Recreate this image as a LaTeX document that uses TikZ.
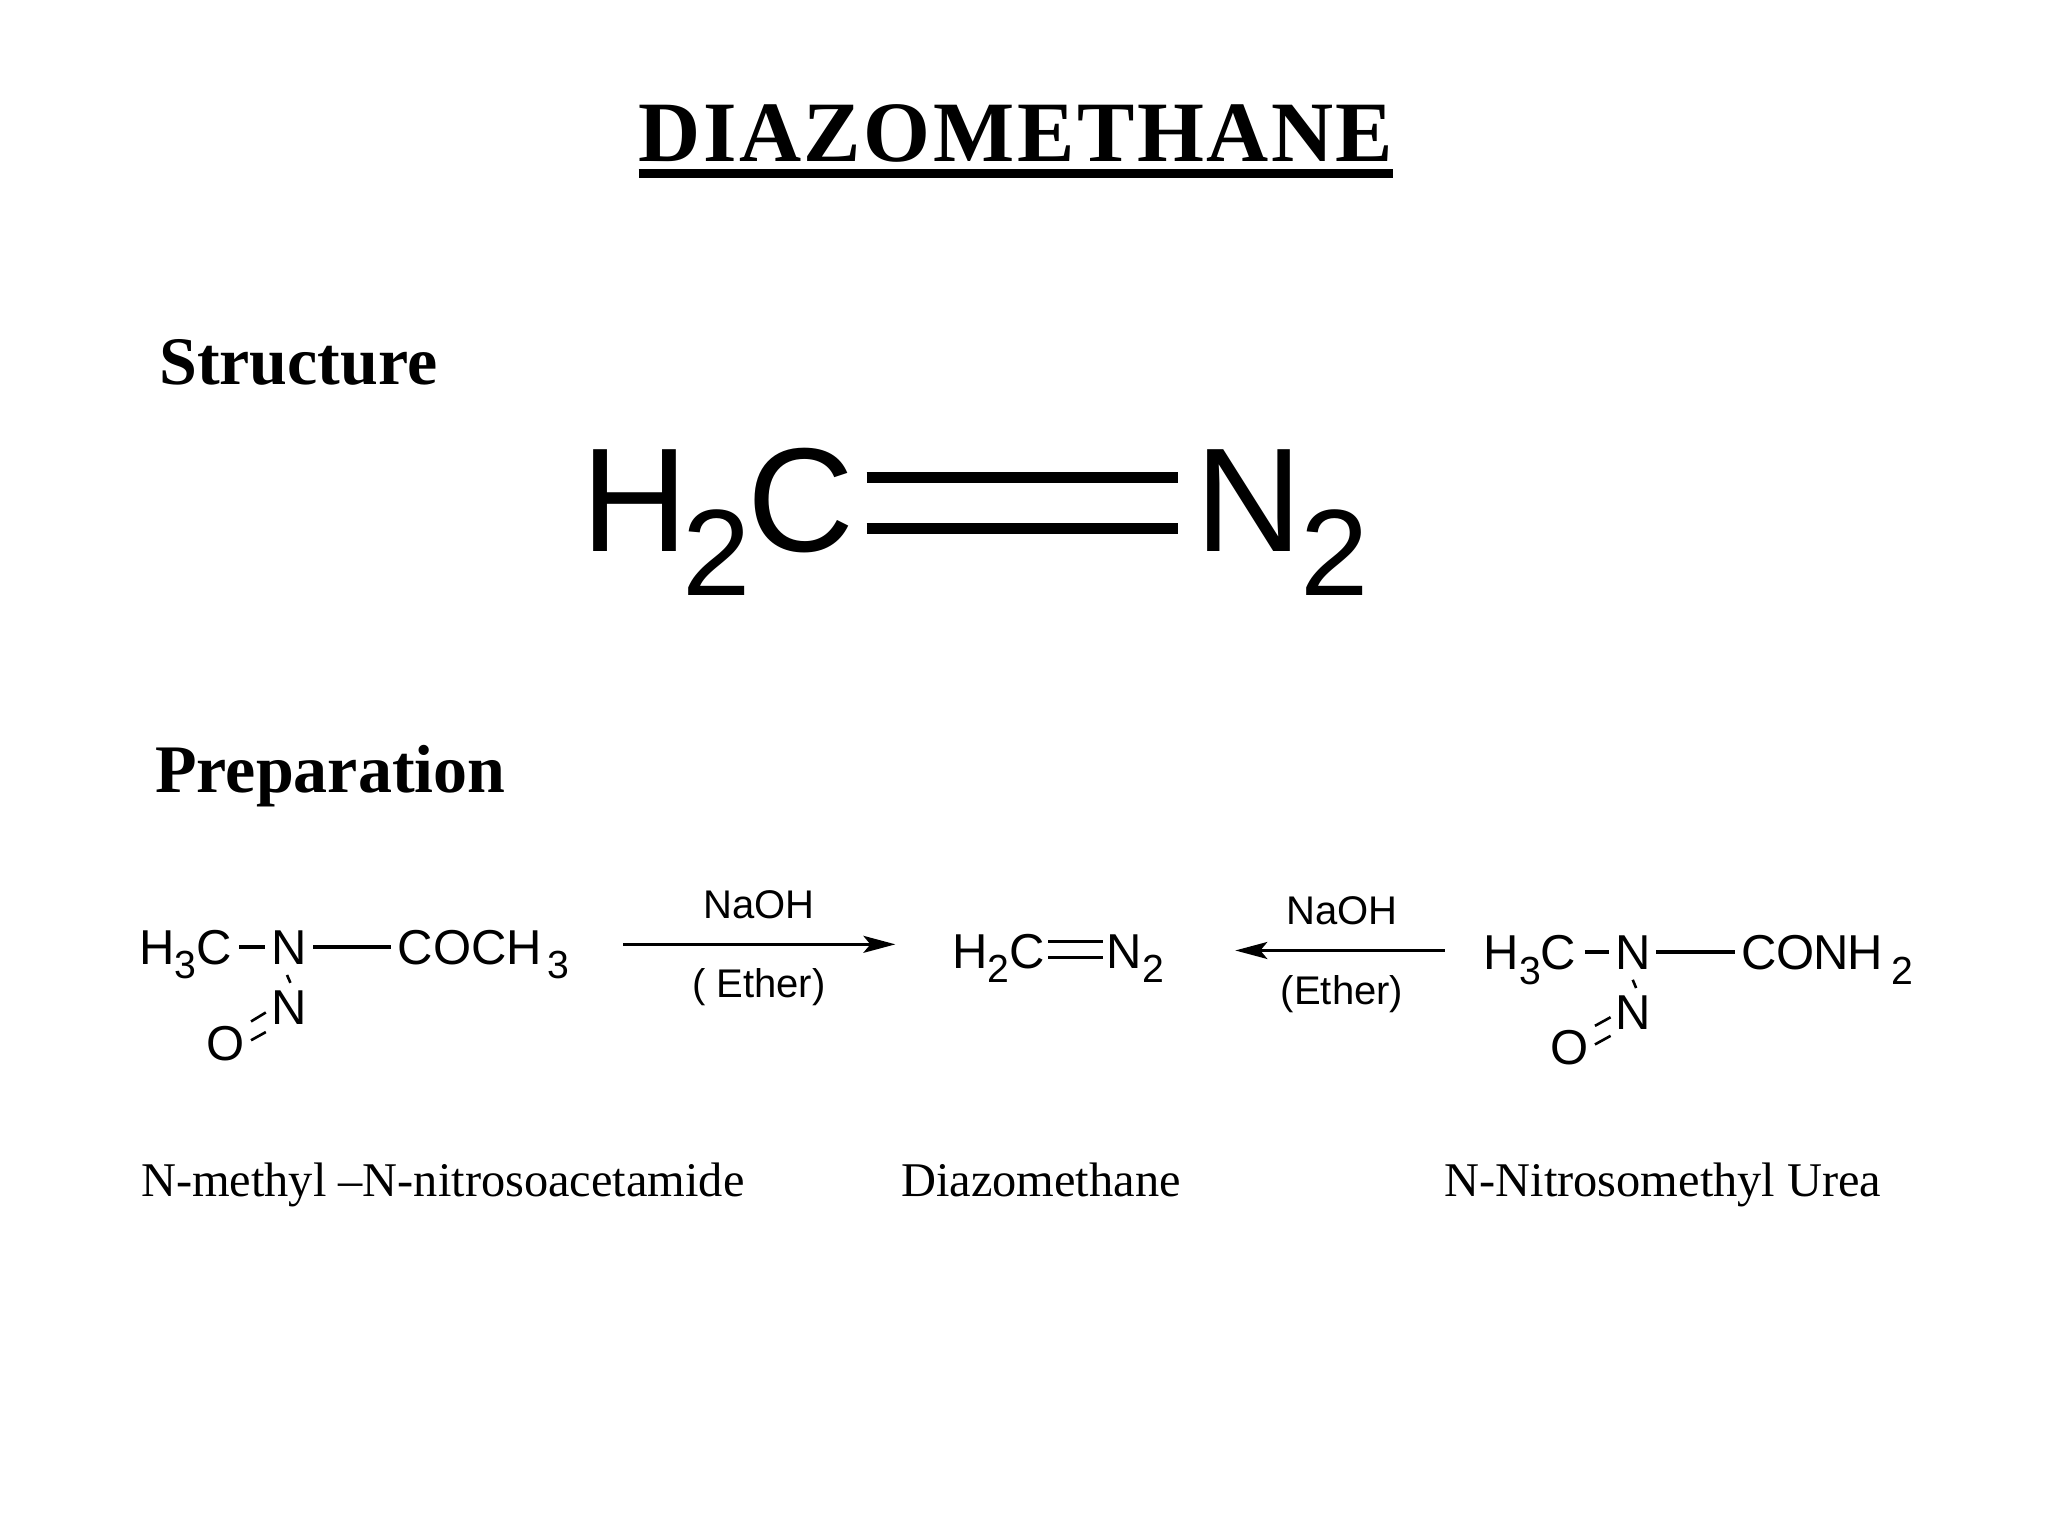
\documentclass[tikz,border=0pt]{standalone}
\usepackage{fontspec}
\setmainfont{Liberation Serif}
\newfontfamily\chemfont{Liberation Sans}
\usetikzlibrary{arrows.meta}
\newcommand{\fsz}[1]{\fontsize{#1}{#1}\selectfont}
\newcommand{\lowd}[1]{\raisebox{-0.29em}{\scalebox{0.8}{#1}}}
\newcommand{\lowbig}[1]{\raisebox{-0.3em}{\scalebox{0.83}{#1}}}
\tikzset{
  txt/.style={anchor=base west,inner sep=0pt,outer sep=0pt,text=black},
  titletxt/.style={txt,font=\fsz{43}\bfseries\addfontfeatures{LetterSpace=3}},
  headtxt/.style={txt,font=\fsz{34}\bfseries},
  captiontxt/.style={txt,font=\fsz{24.2}},
  bigchem/.style={txt,font=\chemfont\fsz{74}},
  chem/.style={txt,font=\chemfont\fsz{24.5}},
  reagent/.style={anchor=base,inner sep=0pt,outer sep=0pt,font=\chemfont\fsz{20}},
  bond/.style={line width=1.9pt,line cap=butt},
  dbond/.style={line width=1.4pt,line cap=butt},
  dash bond/.style={line width=1.3pt,line cap=butt},
  bigbond/.style={line width=5.4pt,line cap=butt},
  rxn/.style={line width=1.3pt,-{Stealth[length=16pt,width=8.5pt,inset=3.5pt]}}
}
\begin{document}
\begin{tikzpicture}[x=0.65306pt,y=-0.65306pt]
\useasboundingbox (0,0) rectangle (1568,1176);
\fill[white] (0,0) rectangle (1568,1176);
% title and headings
\node[titletxt] (title) at (489,123.5) {DIAZOMETHANE};
\draw[line width=4.5pt] ([yshift=-6.3pt]title.base west) -- ([yshift=-6.3pt]title.base east);
\node[headtxt] (structure) at (122,294) {Structure};
\node[headtxt] (preparation) at (119,607) {Preparation};
% big formula
\node[bigchem] (bigc) at (445,422) {H\kern-3pt\lowbig{2}\kern-1.6pt C};
\node[bigchem] (bign) at (915.5,422) {N\kern-1.3pt\lowbig{2}};
\draw[bigbond] ([yshift=37pt,xshift=6.3pt]bigc.base east) -- ([yshift=37pt,xshift=-8.8pt]bign.base west);
\draw[bigbond] ([yshift=11.5pt,xshift=6.3pt]bigc.base east) -- ([yshift=11.5pt,xshift=-8.8pt]bign.base west);
% left reactant
\node[chem] (lc) at (106.5,738.5) {H\lowd{3}C};
\node[chem] (ln) at (207.5,738.5) {N};
\node[chem] (lco) at (304.5,738.5) {COCH\hspace{3pt}\lowd{3}};
\node[chem] (ln2) at (208.2,784.5) {N};
\node[chem] (lo) at (157.8,812) {O};
\draw[bond] ([yshift=8.7pt,xshift=3.8pt]lc.base east) -- ([yshift=8.7pt,xshift=-3.1pt]ln.base west);
\draw[bond] ([yshift=8.7pt,xshift=3.4pt]ln.base east) -- ([yshift=8.7pt,xshift=-3.4pt]lco.base west);
\draw[dash bond] ([xshift=-.85pt,yshift=-5.2pt]ln.base) -- ([xshift=.85pt,yshift=-9.1pt]ln.base);
\draw[dash bond] ([xshift=-19.3pt,yshift=1.6pt]ln2.base) -- ([xshift=-11.9pt,yshift=6.1pt]ln2.base);
\draw[dash bond] ([xshift=-19.3pt,yshift=-7.8pt]ln2.base) -- ([xshift=-11.9pt,yshift=-3.7pt]ln2.base);
% first arrow
\coordinate (a1s) at (477,723);
\coordinate (a1e) at (685.5,723);
\draw[rxn] (a1s) -- (a1e);
\node[reagent] (r1t) at (581,703) {NaOH};
\node[reagent] (r1b) at (581,764) {( Ether)};
% centre product
\node[chem] (mc) at (729,741.5) {H\lowd{2}C};
\node[chem] (mn) at (847.5,741.5) {N\lowd{2}};
\draw[dbond] ([yshift=13.6pt,xshift=1.8pt]mc.base east) -- ([yshift=13.6pt,xshift=-2pt]mn.base west);
\draw[dbond] ([yshift=5.5pt,xshift=1.8pt]mc.base east) -- ([yshift=5.5pt,xshift=-2pt]mn.base west);
% second arrow
\coordinate (a2s) at (1106,727.7);
\coordinate (a2e) at (945.8,727.7);
\draw[rxn] (a2s) -- (a2e);
\node[reagent] (r2t) at (1027.5,708) {NaOH};
\node[reagent] (r2b) at (1027.5,769) {(Ether)};
% right reactant
\node[chem] (rc) at (1136,742.5) {H\lowd{3}C};
\node[chem] (rn) at (1236.5,742.5) {N};
\node[chem] (rco) at (1333.5,742.5) {{\addfontfeatures{LetterSpace=-2}CONH}\hspace{4.2pt}\lowd{2}};
\node[chem] (rn2) at (1237,788) {N};
\node[chem] (ro) at (1187,815) {O};
\draw[bond] ([yshift=9pt,xshift=4.3pt]rc.base east) -- ([yshift=9pt,xshift=-2.9pt]rn.base west);
\draw[bond] ([yshift=9pt,xshift=3pt]rn.base east) -- ([yshift=9pt,xshift=-3.6pt]rco.base west);
\draw[dash bond] ([xshift=0pt,yshift=-5pt]rn.base) -- ([xshift=1.7pt,yshift=-9.1pt]rn.base);
\draw[dash bond] ([xshift=-19.2pt,yshift=1.7pt]rn2.base) -- ([xshift=-11.4pt,yshift=6pt]rn2.base);
\draw[dash bond] ([xshift=-19.2pt,yshift=-7.6pt]rn2.base) -- ([xshift=-11.4pt,yshift=-3.3pt]rn2.base);
% captions
\node[captiontxt] (cap1) at (108,916) {N-methyl –N-nitrosoacetamide};
\node[captiontxt] (cap2) at (690,916) {Diazomethane};
\node[captiontxt] (cap3) at (1106,916) {N-Nitrosomethyl Urea};
\end{tikzpicture}
\end{document}
